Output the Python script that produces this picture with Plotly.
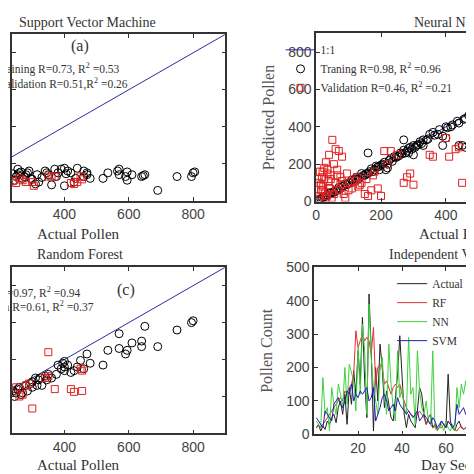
import plotly.graph_objects as go

W = H = 474
def px(x): return x / W
def py(y): return 1 - y / H

# ---- Data ----
svm_train_x = [400,390,440,460,470,480,520,535,565,570,570,590,595,610,595,640,645,650,690,750,795,800,805,370,350,330,300,280,260,250,245,310,320,360,400,430,460,420,340,290,270,255,100,150,50,200,380,410,240,265,285,315,345,375,405,435,470,255,275,295]
svm_train_y = [175,170,175,160,140,120,120,150,160,140,170,130,110,140,155,130,135,140,55,130,130,150,155,170,140,125,115,140,150,130,110,90,100,85,80,100,130,150,160,160,120,170,120,140,100,130,150,160,145,155,150,140,150,130,145,120,150,140,130,120]
svm_val_x = [270,280,300,305,350,360,370,420,430,440,450,455,260,250,240]
svm_val_y = [110,100,100,80,130,130,130,95,90,100,130,115,120,95,105]

rf_train_x = [800,795,750,650,570,535,570,590,595,610,640,640,690,520,480,470,450,400,400,390,420,380,350,340,320,310,300,280,260,250,240,270,300,330,360,400,440,460,100,150,200,50,245,255,265,285,295,315,325,345,375,395,410,430]
rf_train_y = [610,600,560,580,540,450,460,430,450,490,500,470,470,370,380,430,395,390,360,350,330,370,320,310,290,300,280,260,250,220,230,220,250,260,300,340,360,350,110,150,190,60,200,240,210,230,270,260,300,290,320,380,370,340]
rf_val_x = [350,370,420,430,455,455,450,300,270,280,260,340,350,290,250]
rf_val_y = [440,240,240,225,230,340,350,135,210,260,200,300,310,270,250]

nn_train_x = [480,470,460,440,420,400,390,380,360,350,340,330,320,310,300,290,280,270,260,250,240,230,220,210,200,190,180,170,160,150,140,130,120,110,100,90,80,70,60,50,40,30,20,10,5,270,390,400,460,220,215,160,300,330,255,235,185,175,125,105,
              495,455,435,415,405,375,365,345,325,315,305,295,285,275,265,245,225,205,195,165,155,145,135,115,95,85,75,65,55,45,35,25,15,440,450,285,195]
nn_train_y = [470,460,445,420,410,400,350,385,370,360,330,330,320,300,300,290,270,275,260,240,240,230,200,210,195,185,170,175,150,140,150,120,120,115,100,95,80,75,60,50,45,30,20,12,5,330,300,340,290,180,170,260,250,300,245,215,190,160,130,100,
              480,440,430,400,395,360,355,335,310,305,290,280,285,260,255,235,220,200,190,160,150,140,130,110,90,85,70,60,50,45,35,25,15,300,300,260,170]
nn_val_x = [50,60,70,80,40,30,20,10,15,25,35,45,55,65,75,85,90,100,110,120,130,150,160,170,190,200,210,220,230,270,280,290,300,350,360,400,410,430,440,450,5,8,12,18,22,28,33,38,42,48,140,180,250,
            10,15,20,25,30,35,40,45,55,60,65,70,75,80,95,105,125,135,155,175]
nn_val_y = [330,280,270,240,250,210,160,100,60,180,150,120,200,140,90,40,20,60,70,110,80,40,30,60,70,30,270,200,270,100,130,150,90,250,240,340,240,280,290,100,10,120,160,130,80,50,30,110,70,20,100,160,250,
            30,90,60,120,20,170,70,140,40,100,170,60,130,110,150,100,130,90,120,140]

days = list(range(1, 81))
actual = [20,30,10,25,15,40,30,50,60,35,80,100,60,120,30,140,90,190,120,250,150,350,160,50,420,250,10,200,100,270,200,80,130,90,50,40,100,180,295,180,60,20,60,40,30,20,70,140,120,60,30,50,60,20,30,15,20,40,30,20,180,40,20,10,30,40,20,15,20,30,25,20,35,60,70,60,80,70,60,70]
rf = [20,25,20,30,40,50,60,70,80,90,100,110,100,130,120,140,150,180,310,260,280,300,280,290,280,240,320,150,200,210,200,150,160,140,120,140,150,140,150,120,100,80,70,60,55,50,60,70,60,50,30,40,30,20,25,15,20,20,30,20,40,30,20,15,10,20,25,15,20,30,40,50,60,80,100,120,110,100,90,80]
nn = [40,30,20,170,60,80,10,140,90,60,150,120,80,200,90,210,180,160,70,260,120,330,250,60,390,230,140,100,60,190,230,120,60,270,150,80,40,250,110,140,80,60,290,120,140,30,250,130,80,60,100,40,30,250,20,10,20,30,10,40,20,10,30,10,140,80,150,120,160,100,130,60,90,140,160,120,100,140,110,120]
svm = [50,40,30,20,70,60,50,40,90,100,110,90,80,100,130,120,150,100,120,110,130,120,130,140,100,110,140,40,60,80,110,120,100,70,80,90,70,110,90,80,70,60,70,60,50,60,70,40,50,60,50,40,30,50,40,20,30,40,30,20,40,30,20,30,90,60,70,80,60,70,90,60,70,80,100,80,70,60,80,70]

sym_line = [0, 900]

SERIF = "Liberation Serif"
SANS = "Liberation Sans"

fig = go.Figure()
circ = dict(symbol="circle-open", size=8, color="black", line=dict(width=1))
sq = dict(symbol="square-open", size=7, color="#e02020", line=dict(width=1))

def panel(xa, ya, tx, ty, vx, vy, legend=False):
    fig.add_trace(go.Scatter(x=sym_line, y=sym_line, mode="lines", line=dict(color="#2a2aa8", width=1),
                             name="1:1", showlegend=legend, xaxis=xa, yaxis=ya))
    fig.add_trace(go.Scatter(x=tx, y=ty, mode="markers", marker=circ,
                             name="Traning R=0.98, R<sup>2</sup> =0.96", showlegend=legend, xaxis=xa, yaxis=ya))
    fig.add_trace(go.Scatter(x=vx, y=vy, mode="markers", marker=sq,
                             name="Validation R=0.46, R<sup>2</sup> =0.21", showlegend=legend, xaxis=xa, yaxis=ya))

panel("x", "y", svm_train_x, svm_train_y, svm_val_x, svm_val_y)
panel("x2", "y2", nn_train_x, nn_train_y, nn_val_x, nn_val_y, legend=True)
panel("x3", "y3", rf_train_x, rf_train_y, rf_val_x, rf_val_y)

for name, vals, col in [("Actual", actual, "#222222"), ("RF", rf, "#e03030"), ("NN", nn, "#40d040"), ("SVM", svm, "#2020b0")]:
    fig.add_trace(go.Scatter(x=days, y=vals, mode="lines", line=dict(color=col, width=1),
                             name=name, xaxis="x4", yaxis="y4", legend="legend2"))

ax = dict(showline=True, linecolor="#333", linewidth=1.5, mirror="ticks", ticks="inside", ticklen=4,
          tickcolor="#333", showgrid=False, zeroline=False, tickfont=dict(family=SANS, size=14, color="#444"))
ttl = dict(family=SERIF, size=16, color="#555")

fig.update_layout(
    width=W, height=H, margin=dict(l=0, r=0, t=0, b=0), plot_bgcolor="white", paper_bgcolor="white",
    xaxis=dict(ax, anchor="y", domain=[0, px(216)], range=[237, 900], tickvals=[200, 400, 600, 800]),
    yaxis=dict(ax, anchor="x", domain=[py(191), py(19)], range=[0, 900], tickvals=[0, 200, 400, 600, 800], showticklabels=False),
    xaxis2=dict(ax, anchor="y2", domain=[px(308), 1], range=[0, 505], tickvals=[0, 200, 400]),
    yaxis2=dict(ax, anchor="x2", domain=[py(192), py(18)], range=[0, 900], tickvals=[0, 200, 400, 600, 800],
                title=dict(text="Predicted Pollen", font=ttl, standoff=10)),
    xaxis3=dict(ax, anchor="y3", domain=[0, px(216)], range=[237, 900], tickvals=[200, 400, 600, 800]),
    yaxis3=dict(ax, anchor="x3", domain=[py(432), py(260)], range=[0, 900], tickvals=[0, 200, 400, 600, 800], showticklabels=False),
    xaxis4=dict(ax, anchor="y4", domain=[px(306), 1], range=[0, 75.5], tickvals=[20, 40, 60]),
    yaxis4=dict(ax, anchor="x4", domain=[py(433), py(260)], range=[0, 500], tickvals=[0, 100, 200, 300, 400, 500],
                title=dict(text="Pollen Count", font=ttl, standoff=10)),
    legend=dict(x=px(272), y=py(20), xanchor="left", yanchor="top", bgcolor="rgba(0,0,0,0)",
                font=dict(family=SERIF, size=11.5, color="#333"), tracegroupgap=0, itemwidth=30),
    legend2=dict(x=px(385), y=py(262), xanchor="left", yanchor="top", bgcolor="rgba(0,0,0,0)",
                 font=dict(family=SERIF, size=11.5, color="#333"), itemwidth=30),
)

def ann(text, x, y, xanchor="center", size=12.5):
    fig.add_annotation(text=text, x=px(x), y=py(y), xref="paper", yref="paper", xanchor=xanchor,
                       yanchor="middle", showarrow=False, font=dict(family=SERIF, size=size, color="#333"))

ann("Support Vector Machine", 148, 7, "right", 14)
ann("Neural Network", 405, 7, "left", 14)
ann("Random Forest", 69, 247, "center", 14)
ann("Independent Validation", 380, 247, "left", 14)
ann("(a)", 69, 31, size=16)
ann("(c)", 115, 284, size=16)
ann("Training R=0.73, R<sup>2</sup> =0.53", 111, 54, "right", 11.5)
ann("Validation R=0.51,R<sup>2</sup> =0.26", 120, 70, "right", 11.5)
ann("Training R=0.97, R<sup>2</sup> =0.94", 72, 286, "right", 11.5)
ann("Validation R=0.61, R<sup>2</sup> =0.37", 85, 301, "right", 11.5)
ann("Actual Pollen", 67, 226, "center", 15)
ann("Actual Pollen", 67, 465, "center", 15)
ann("Actual Pollen", 410, 226, "left", 15)
ann("Day Sequence", 412, 465, "left", 15)

fig.write_html("out.html")
